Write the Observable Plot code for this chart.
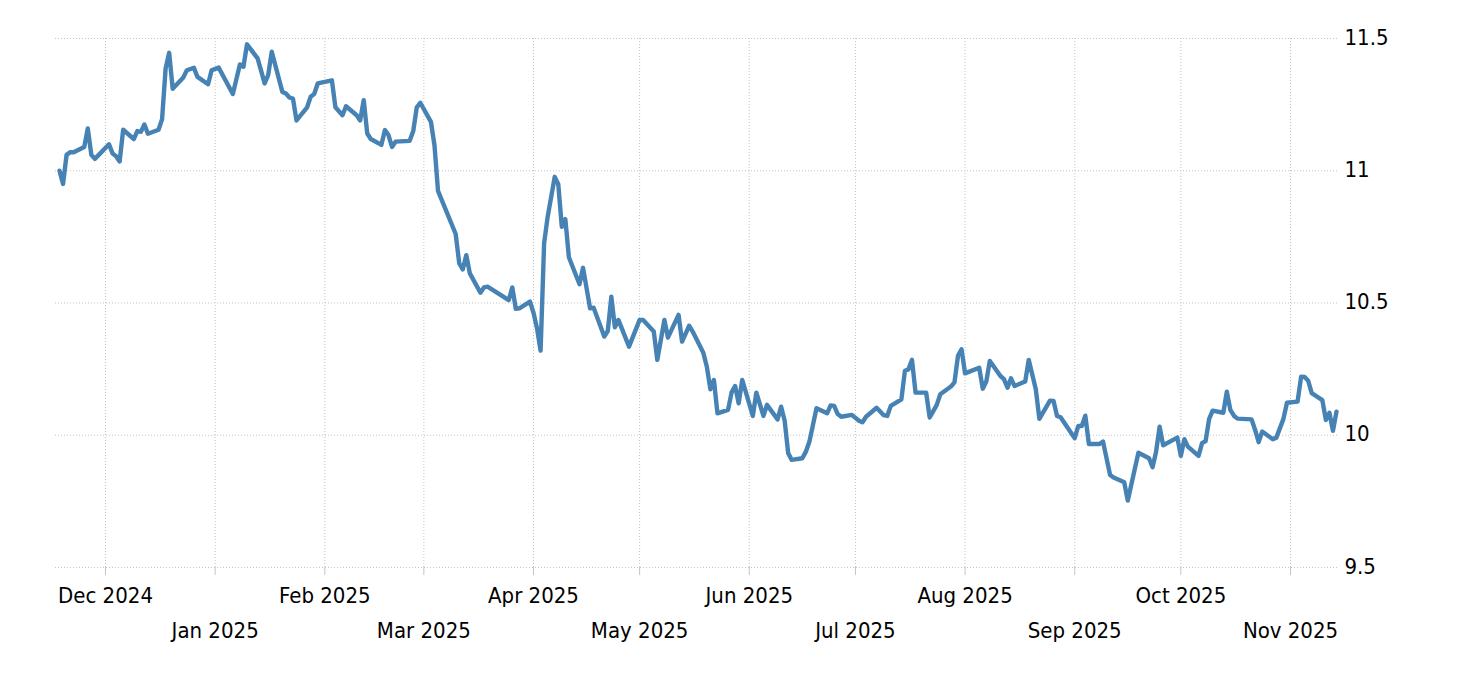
<!DOCTYPE html>
<html>
<head>
<meta charset="utf-8">
<script src="https://cdn.jsdelivr.net/npm/d3@7"></script>
<script src="https://cdn.jsdelivr.net/npm/@observablehq/plot@0.6"></script>
<style>
html,body{margin:0;padding:0;background:#fff;}
svg{display:block;}
</style>
</head>
<body>
<div id="chart"></div>
<script>
const dates = ["2024-11-18","2024-11-19","2024-11-20","2024-11-21","2024-11-22","2024-11-25","2024-11-26","2024-11-27","2024-11-28","2024-12-02","2024-12-03","2024-12-04","2024-12-05","2024-12-06","2024-12-09","2024-12-10","2024-12-11","2024-12-12","2024-12-13","2024-12-16","2024-12-17","2024-12-18","2024-12-19","2024-12-20","2024-12-23","2024-12-24","2024-12-26","2024-12-27","2024-12-30","2024-12-31","2025-01-02","2025-01-06","2025-01-08","2025-01-09","2025-01-10","2025-01-13","2025-01-15","2025-01-16","2025-01-17","2025-01-20","2025-01-21","2025-01-22","2025-01-23","2025-01-24","2025-01-27","2025-01-28","2025-01-29","2025-01-30","2025-02-03","2025-02-04","2025-02-06","2025-02-07","2025-02-10","2025-02-11","2025-02-12","2025-02-13","2025-02-14","2025-02-17","2025-02-18","2025-02-19","2025-02-20","2025-02-21","2025-02-25","2025-02-26","2025-02-27","2025-02-28","2025-03-03","2025-03-04","2025-03-05","2025-03-10","2025-03-11","2025-03-12","2025-03-13","2025-03-14","2025-03-17","2025-03-18","2025-03-19","2025-03-25","2025-03-26","2025-03-27","2025-03-28","2025-03-31","2025-04-01","2025-04-02","2025-04-03","2025-04-04","2025-04-05","2025-04-07","2025-04-08","2025-04-09","2025-04-10","2025-04-11","2025-04-14","2025-04-15","2025-04-17","2025-04-18","2025-04-21","2025-04-22","2025-04-23","2025-04-24","2025-04-25","2025-04-28","2025-05-01","2025-05-02","2025-05-05","2025-05-06","2025-05-08","2025-05-09","2025-05-12","2025-05-13","2025-05-15","2025-05-16","2025-05-19","2025-05-20","2025-05-21","2025-05-22","2025-05-23","2025-05-26","2025-05-27","2025-05-28","2025-05-29","2025-05-30","2025-06-02","2025-06-03","2025-06-05","2025-06-06","2025-06-09","2025-06-10","2025-06-11","2025-06-12","2025-06-13","2025-06-16","2025-06-17","2025-06-18","2025-06-20","2025-06-23","2025-06-24","2025-06-25","2025-06-26","2025-06-27","2025-06-30","2025-07-02","2025-07-03","2025-07-04","2025-07-07","2025-07-09","2025-07-10","2025-07-11","2025-07-14","2025-07-15","2025-07-16","2025-07-17","2025-07-18","2025-07-21","2025-07-22","2025-07-24","2025-07-25","2025-07-28","2025-07-29","2025-07-30","2025-07-31","2025-08-01","2025-08-05","2025-08-06","2025-08-07","2025-08-08","2025-08-11","2025-08-12","2025-08-13","2025-08-14","2025-08-15","2025-08-18","2025-08-19","2025-08-21","2025-08-22","2025-08-25","2025-08-26","2025-08-27","2025-08-28","2025-09-01","2025-09-02","2025-09-03","2025-09-04","2025-09-05","2025-09-08","2025-09-09","2025-09-11","2025-09-12","2025-09-15","2025-09-16","2025-09-19","2025-09-22","2025-09-23","2025-09-24","2025-09-25","2025-09-26","2025-09-30","2025-10-01","2025-10-02","2025-10-03","2025-10-06","2025-10-07","2025-10-08","2025-10-09","2025-10-10","2025-10-13","2025-10-14","2025-10-15","2025-10-16","2025-10-17","2025-10-21","2025-10-22","2025-10-23","2025-10-24","2025-10-27","2025-10-28","2025-10-30","2025-10-31","2025-11-03","2025-11-04","2025-11-05","2025-11-06","2025-11-07","2025-11-10","2025-11-11","2025-11-12","2025-11-13","2025-11-14"];
const values = [11.00,10.95,11.06,11.07,11.07,11.09,11.16,11.06,11.045,11.10,11.065,11.055,11.035,11.155,11.12,11.15,11.147,11.175,11.14,11.155,11.195,11.387,11.446,11.31,11.353,11.38,11.389,11.355,11.327,11.38,11.39,11.29,11.402,11.393,11.478,11.425,11.33,11.362,11.45,11.298,11.292,11.277,11.273,11.19,11.24,11.28,11.29,11.33,11.342,11.24,11.21,11.244,11.21,11.19,11.267,11.141,11.12,11.098,11.154,11.135,11.09,11.11,11.113,11.15,11.24,11.257,11.185,11.097,10.924,10.761,10.65,10.627,10.681,10.612,10.539,10.559,10.562,10.511,10.559,10.478,10.48,10.505,10.463,10.404,10.32,10.726,10.826,10.977,10.949,10.788,10.817,10.673,10.571,10.633,10.48,10.482,10.373,10.394,10.524,10.408,10.436,10.335,10.436,10.436,10.392,10.285,10.436,10.369,10.455,10.354,10.414,10.392,10.312,10.259,10.174,10.209,10.083,10.096,10.162,10.186,10.121,10.209,10.073,10.161,10.073,10.115,10.06,10.108,10.055,9.932,9.907,9.913,9.938,9.976,10.102,10.083,10.113,10.111,10.08,10.07,10.077,10.055,10.049,10.07,10.104,10.076,10.073,10.111,10.136,10.244,10.249,10.285,10.161,10.161,10.067,10.115,10.155,10.184,10.2,10.3,10.325,10.234,10.255,10.176,10.203,10.281,10.224,10.212,10.18,10.215,10.186,10.203,10.285,10.174,10.062,10.131,10.13,10.073,10.068,9.989,10.035,10.035,10.074,9.967,9.967,9.976,9.85,9.84,9.822,9.753,9.934,9.913,9.879,9.938,10.032,9.962,9.991,9.922,9.985,9.957,9.922,9.97,9.978,10.062,10.093,10.085,10.165,10.096,10.074,10.063,10.06,10.02,9.974,10.014,9.985,9.991,10.062,10.123,10.127,10.221,10.22,10.206,10.159,10.133,10.058,10.085,10.017,10.089];
const monthsRowOne = ["2024-12-01","2025-02-01","2025-04-01","2025-06-01","2025-08-01","2025-10-01"];
const monthsRowTwo = ["2025-01-01","2025-03-01","2025-05-01","2025-07-01","2025-09-01","2025-11-01"];
const yTicks = [9.5,10,10.5,11,11.5];

const toDate = s => new Date(s);
const series = dates.map((d,i)=>({date:toDate(d),value:values[i]}));
const rowOne = monthsRowOne.map(toDate);
const rowTwo = monthsRowTwo.map(toDate);
const allMonths = [...rowOne,...rowTwo];
const fmt = d3.utcFormat("%b %Y");
const gridColor = "#c4c4c4";

const chart = Plot.plot({
  width:1460,
  height:680,
  marginLeft:55,
  marginRight:122,
  marginTop:38,
  marginBottom:113,
  style:{fontFamily:"'DejaVu Sans Condensed','DejaVu Sans',sans-serif",fontSize:"22px",color:"#000",background:"#fff"},
  x:{type:"utc",domain:[new Date("2024-11-16T20:50:00Z"),new Date("2025-11-14T13:40:00Z")]},
  y:{domain:[9.5,11.5]},
  marks:[
    Plot.gridX(allMonths,{stroke:gridColor,strokeOpacity:1,strokeDasharray:"1 2"}),
    Plot.gridY(yTicks,{stroke:gridColor,strokeOpacity:1,strokeDasharray:"1 2"}),
    Plot.axisX(allMonths,{anchor:"bottom",tickSize:8,stroke:gridColor,fill:"none",label:null}),
    Plot.axisX(rowOne,{anchor:"bottom",tickSize:0,tickPadding:20,stroke:"none",fill:"#000",tickFormat:fmt,label:null}),
    Plot.axisX(rowTwo,{anchor:"bottom",tickSize:0,tickPadding:55,stroke:"none",fill:"#000",tickFormat:fmt,label:null}),
    Plot.axisY(yTicks,{anchor:"right",tickSize:0,tickPadding:6,textAnchor:"start",fill:"#000",tickFormat:d=>String(d),label:null,dy:-1}),
    Plot.line(series,{x:"date",y:"value",stroke:"#4682b4",strokeWidth:4.4,strokeLinejoin:"round"})
  ]
});
document.getElementById("chart").appendChild(chart);
</script>
</body>
</html>
